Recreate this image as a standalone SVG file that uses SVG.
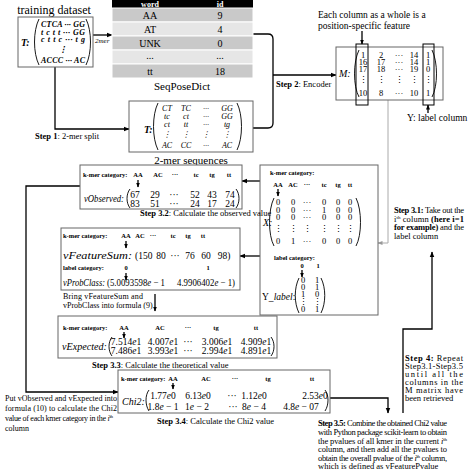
<svg xmlns="http://www.w3.org/2000/svg" width="474" height="474" viewBox="0 0 474 474">
<defs>
<style>
text{font-family:"Liberation Serif","Times New Roman",serif;fill:#000}
.b{font-weight:bold}
.i{font-style:italic}
.n{font-style:normal}
.m{text-anchor:middle}
.s6{font-size:6.5px;font-weight:bold}
.s8{font-size:8.5px}
.s9{font-size:9.5px}
.s10{font-size:10px}
.bx{fill:#fff;stroke:#666;stroke-width:1}
.ln{fill:none;stroke:#000;stroke-width:1.3}
.pr{fill:none;stroke:#000;stroke-width:0.9}
.hl{fill:none;stroke:#000;stroke-width:1}
</style>
<marker id="ah" viewBox="0 0 10 10" refX="9" refY="5" markerWidth="6" markerHeight="6" markerUnits="userSpaceOnUse" orient="auto"><path d="M0,1 L10,5 L0,9 z" fill="#000"/></marker>
<marker id="ahs" viewBox="0 0 10 10" refX="9" refY="5" markerWidth="5" markerHeight="6" markerUnits="userSpaceOnUse" orient="auto"><path d="M0,1 L10,5 L0,9 z" fill="#000"/></marker>
<marker id="ahg" viewBox="0 0 10 10" refX="9" refY="5" markerWidth="5" markerHeight="5" markerUnits="userSpaceOnUse" orient="auto"><path d="M0,1 L10,5 L0,9 z" fill="#999"/></marker>
</defs>

<g id="connectors">
<line class="ln" x1="93" y1="35" x2="112" y2="35" marker-end="url(#ah)"/>
<text x="95" y="43" class="i" font-size="7">2mer</text>
<path class="ln" d="M55,67 V129 H129" marker-end="url(#ah)"/>
<text x="35" y="139" class="s8"><tspan class="b">Step 1</tspan>: 2-mer split</text>
<path class="ln" d="M253,34 H268 Q273,34 273,39 V123 Q273,128 268,128 H253"/>
<line class="ln" x1="273" y1="75" x2="336" y2="75" marker-end="url(#ah)"/>
<text x="276" y="87" class="s8"><tspan class="b">Step 2</tspan>: Encoder</text>
<line class="ln" x1="362" y1="31" x2="362" y2="44" marker-end="url(#ahs)"/>
<line class="ln" x1="428" y1="113" x2="428" y2="105" marker-end="url(#ahs)"/>
<path d="M388,100 V243 H378" fill="none" stroke="#aaa" stroke-width="1" marker-end="url(#ahg)"/>
<line class="ln" x1="260" y1="181" x2="242" y2="181" marker-end="url(#ah)"/>
<line class="ln" x1="260" y1="256" x2="240" y2="256" marker-end="url(#ah)"/>
<line class="ln" x1="155" y1="294" x2="155" y2="311" marker-end="url(#ahs)"/>
<path class="ln" d="M80,186 H26 V392 H118" marker-end="url(#ah)"/>
<path class="ln" d="M330,398 H388 V413" marker-end="url(#ah)"/>
<path class="ln" d="M403,413 V329 H432 V252" marker-end="url(#ah)"/>
</g>

<g id="training">
<text x="54" y="14" class="m" font-size="12">training dataset</text>
<rect class="bx" x="18" y="17" width="75" height="50"/>
<text x="21" y="46" class="i b s10">T:</text>
<path class="pr" d="M39,19 C33,31 33,53 39,65"/>
<path class="pr" d="M86,19 C92,31 92,53 86,65"/>
<g class="i b" font-size="8">
<text x="41" y="27" textLength="44" lengthAdjust="spacing">CTCA ··· GG</text>
<text x="41" y="35" textLength="44" lengthAdjust="spacing">t c t t ··· GG</text>
<text x="41" y="42" textLength="44" lengthAdjust="spacing">c t t c ··· t g</text>
<text x="63" y="52" class="m">⋮</text>
<text x="41" y="63" textLength="44" lengthAdjust="spacing">ACCC ··· AC</text>
</g>
</g>

<g id="seqposedict">
<rect x="112" y="0" width="141" height="8" fill="#000"/>
<rect x="112" y="8" width="141" height="14" fill="#c9c9c9" stroke="#fff" stroke-width="1"/>
<rect x="112" y="22" width="141" height="14" fill="#e6e6e6" stroke="#fff" stroke-width="1"/>
<rect x="112" y="36" width="141" height="14" fill="#c9c9c9" stroke="#fff" stroke-width="1"/>
<rect x="112" y="50" width="141" height="14" fill="#e6e6e6" stroke="#fff" stroke-width="1"/>
<rect x="112" y="64" width="141" height="14" fill="#c9c9c9" stroke="#fff" stroke-width="1"/>
<g class="m s10">
<text x="150" y="7" class="b" font-size="8" style="fill:#fff">word</text>
<text x="220" y="7" class="b" font-size="8" style="fill:#fff">id</text>
<text x="150" y="19">AA</text><text x="220" y="19">9</text>
<text x="150" y="33">AT</text><text x="220" y="33">4</text>
<text x="150" y="47">UNK</text><text x="220" y="47">0</text>
<text x="150" y="59">...</text><text x="220" y="59">...</text>
<text x="150" y="75">tt</text><text x="220" y="75">18</text>
</g>
<text x="182" y="90" class="m" font-size="11">SeqPoseDict</text>
</g>

<g id="twomer">
<rect class="bx" x="129" y="101" width="124" height="51"/>
<text x="144" y="133" class="i b s10">T:</text>
<path class="pr" d="M158,103 C152,115 152,138 158,150"/>
<path class="pr" d="M237,103 C243,115 243,138 237,150"/>
<g class="m i" font-size="8">
<text x="167" y="111">CT</text><text x="186" y="111">TC</text><text x="206" y="111">···</text><text x="227" y="111">GG</text>
<text x="167" y="119">tc</text><text x="186" y="119">ct</text><text x="206" y="119">···</text><text x="227" y="119">GG</text>
<text x="167" y="127">ct</text><text x="186" y="127">tt</text><text x="206" y="127">···</text><text x="227" y="127">tg</text>
<text x="167" y="137">⋮</text><text x="186" y="137">⋮</text><text x="206" y="137">⋮</text><text x="227" y="137">⋮</text>
<text x="167" y="148">AC</text><text x="186" y="148">CC</text><text x="206" y="148">···</text><text x="227" y="148">AC</text>
</g>
<text x="191" y="164" class="m" font-size="11">2-mer sequences</text>
</g>

<g id="matrixM">
<text x="318" y="18" class="s9">Each column as a whole is a</text>
<text x="318" y="29" class="s9">position-specific feature</text>
<rect class="bx" x="336" y="47" width="107" height="53"/>
<text x="339" y="77" class="i s10">M:</text>
<path class="pr" d="M359,50 C353,62 353,86 359,97"/>
<path class="pr" d="M432,50 C438,62 438,86 432,97"/>
<g class="m" font-size="8.5">
<text x="363" y="58">1</text><text x="381" y="58">2</text><text x="399" y="58">···</text><text x="414" y="58">14</text><text x="428" y="58">1</text>
<text x="363" y="65">16</text><text x="381" y="65">17</text><text x="399" y="65">···</text><text x="414" y="65">14</text><text x="428" y="65">1</text>
<text x="363" y="72">17</text><text x="381" y="72">18</text><text x="399" y="72">···</text><text x="414" y="72">19</text><text x="428" y="72">0</text>
<text x="363" y="83">⋮</text><text x="381" y="83">⋮</text><text x="399" y="83">⋮</text><text x="414" y="83">⋮</text><text x="428" y="83">⋮</text>
<text x="363" y="96">10</text><text x="381" y="96">8</text><text x="399" y="96">···</text><text x="414" y="96">10</text><text x="428" y="96">1</text>
</g>
<rect class="hl" x="356" y="44" width="12" height="61"/>
<rect class="hl" x="423" y="44" width="11" height="61"/>
<text x="407" y="121" class="s9">Y: label column</text>
</g>

<g id="matrixX">
<rect class="bx" x="260" y="165" width="118" height="150"/>
<text x="270" y="175" class="s6">k-mer category:</text>
<g class="m s6">
<text x="278" y="187">AA</text><text x="293" y="187">AC</text><text x="307" y="187">···</text><text x="324" y="187">tc</text><text x="338" y="187">tg</text><text x="350" y="187">tt</text>
<text x="302" y="268">0</text><text x="318" y="268">1</text>
</g>
<line class="ln" x1="278" y1="189" x2="278" y2="196" marker-end="url(#ahs)" stroke-width="1"/>
<text x="263" y="226" class="i s10">X:</text>
<path class="pr" d="M274,198 C268,210 268,235 274,246"/>
<path class="pr" d="M356,198 C362,210 362,235 356,246"/>
<g class="m" font-size="8.5">
<text x="278" y="205">0</text><text x="293" y="205">0</text><text x="307" y="205">···</text><text x="324" y="205">0</text><text x="338" y="205">0</text><text x="350" y="205">0</text>
<text x="278" y="212.5">0</text><text x="293" y="212.5">0</text><text x="307" y="212.5">···</text><text x="324" y="212.5">1</text><text x="338" y="212.5">0</text><text x="350" y="212.5">0</text>
<text x="278" y="220">0</text><text x="293" y="220">0</text><text x="307" y="220">···</text><text x="324" y="220">0</text><text x="338" y="220">0</text><text x="350" y="220">0</text>
<text x="278" y="232">⋮</text><text x="293" y="232">⋮</text><text x="307" y="232">⋮</text><text x="324" y="232">⋮</text><text x="338" y="232">⋮</text><text x="350" y="232">⋮</text>
<text x="278" y="244">0</text><text x="293" y="244">1</text><text x="307" y="244">···</text><text x="324" y="244">0</text><text x="338" y="244">0</text><text x="350" y="244">0</text>
</g>
<text x="274" y="260" class="s6">label category:</text>
<line class="ln" x1="302" y1="270" x2="302" y2="277" marker-end="url(#ahs)" stroke-width="1"/>
<text x="262" y="300" class="s9">Y_<tspan class="i">label</tspan>:</text>
<path class="pr" d="M299,278 C294,288 294,303 299,313"/>
<path class="pr" d="M321,278 C326,288 326,303 321,313"/>
<g class="m" font-size="8.5">
<text x="303" y="283">0</text><text x="317" y="283">1</text>
<text x="303" y="290">0</text><text x="317" y="290">1</text>
<text x="303" y="297">1</text><text x="317" y="297">0</text>
<text x="303" y="305">⋮</text><text x="317" y="305">⋮</text>
<text x="303" y="312">0</text><text x="317" y="312">1</text>
</g>
</g>

<g id="step31">
<g class="s8">
<text x="394" y="213" textLength="70" lengthAdjust="spacing"><tspan class="b">Step 3.1:</tspan> Take out the</text>
<text x="394" y="221.5" textLength="70" lengthAdjust="spacing">i<tspan font-size="5" dy="-3">th</tspan><tspan dy="3"> column </tspan><tspan class="b">(here i=1</tspan></text>
<text x="394" y="230" textLength="70" lengthAdjust="spacing"><tspan class="b">for example)</tspan> and the</text>
<text x="394" y="238.5">label column</text>
</g>
</g>

<g id="vObserved">
<rect class="bx" x="80" y="165" width="162" height="44"/>
<text x="83" y="177" class="s6">k-mer category:</text>
<g class="m s6">
<text x="138" y="177">AA</text><text x="158" y="177">AC</text><text x="175" y="177">···</text><text x="196" y="177">tc</text><text x="212" y="177">tg</text><text x="229" y="177">tt</text>
</g>
<line class="ln" x1="138" y1="180" x2="138" y2="187" marker-end="url(#ahs)" stroke-width="1"/>
<text x="84" y="202" class="i" font-size="10" textLength="40" lengthAdjust="spacingAndGlyphs">vObserved:</text>
<path class="pr" d="M130,189 C126,194 126,203 130,208"/>
<path class="pr" d="M236,189 C240,194 240,203 236,208"/>
<g class="m" font-size="9.5">
<text x="135" y="197.5">67</text><text x="155" y="197.5">29</text><text x="174" y="197.5">···</text><text x="195" y="197.5">52</text><text x="212" y="197.5">43</text><text x="230" y="197.5">74</text>
<text x="135" y="206.5">83</text><text x="155" y="206.5">51</text><text x="174" y="206.5">···</text><text x="195" y="206.5">24</text><text x="212" y="206.5">17</text><text x="230" y="206.5">24</text>
</g>
<text x="140" y="216" class="s8"><tspan class="b">Step 3.2</tspan>: Calculate the observed value</text>
</g>

<g id="vFeatureSum">
<rect class="bx" x="61" y="228" width="179" height="62"/>
<text x="63" y="238" class="s6">k-mer category:</text>
<g class="m s6">
<text x="126" y="238">AA</text><text x="140" y="238">AC</text><text x="153" y="238">···</text><text x="173" y="238">tc</text><text x="188" y="238">tg</text><text x="203" y="238">tt</text>
<text x="126" y="270">0</text><text x="208" y="270">1</text>
</g>
<line class="ln" x1="126" y1="241" x2="126" y2="248" marker-end="url(#ahs)" stroke-width="1"/>
<text x="63" y="258.5" class="i s10" textLength="69" lengthAdjust="spacingAndGlyphs">vFeatureSum:</text>
<g font-size="9.5">
<text x="135" y="258.5">(150</text>
<text x="161" y="258.5" class="m">80</text>
<text x="175" y="258.5" class="m">···</text>
<text x="190" y="258.5" class="m">76</text>
<text x="206" y="258.5" class="m">60</text>
<text x="224" y="258.5" class="m">98)</text>
</g>
<text x="63" y="270" class="s6">label category:</text>
<line class="ln" x1="126" y1="273" x2="126" y2="280" marker-end="url(#ahs)" stroke-width="1"/>
<text x="63" y="286" class="i s10" textLength="42" lengthAdjust="spacingAndGlyphs">vProbClass:</text>
<text x="107" y="286" font-size="9.5" textLength="58" lengthAdjust="spacingAndGlyphs">(5.0093598<tspan class="i">e</tspan> − 1</text>
<text x="177" y="286" font-size="9.5" textLength="58" lengthAdjust="spacingAndGlyphs">4.9906402<tspan class="i">e</tspan> − 1)</text>
<text x="63" y="299" font-size="8" textLength="80" lengthAdjust="spacing">Bring vFeatureSum and</text>
<text x="63" y="308" font-size="8">vProbClass into formula (9)</text>
</g>

<g id="vExpected">
<rect class="bx" x="58" y="316" width="219" height="42"/>
<text x="63" y="330" class="s6">k-mer category:</text>
<g class="m s6">
<text x="124" y="330">AA</text><text x="160" y="330">AC</text><text x="188" y="330">···</text><text x="216" y="330">tg</text><text x="256" y="330">tt</text>
</g>
<line class="ln" x1="124" y1="332" x2="124" y2="338" marker-end="url(#ahs)" stroke-width="1"/>
<text x="62" y="350" class="i" font-size="10" textLength="45" lengthAdjust="spacingAndGlyphs">vExpected:</text>
<path class="pr" d="M112,337 C108,342 108,351 112,356"/>
<path class="pr" d="M271,337 C275,342 275,351 271,356"/>
<g class="m" font-size="9.5">
<text x="126" y="345">7.514<tspan class="i">e</tspan>1</text><text x="163" y="345">4.007<tspan class="i">e</tspan>1</text><text x="188" y="345">···</text><text x="217" y="345">3.006<tspan class="i">e</tspan>1</text><text x="256" y="345">4.909<tspan class="i">e</tspan>1</text>
<text x="126" y="354">7.486<tspan class="i">e</tspan>1</text><text x="163" y="354">3.993<tspan class="i">e</tspan>1</text><text x="188" y="354">···</text><text x="217" y="354">2.994<tspan class="i">e</tspan>1</text><text x="256" y="354">4.891<tspan class="i">e</tspan>1</text>
</g>
<text x="92" y="368" class="s8"><tspan class="b">Step 3.3</tspan>: Calculate the theoretical value</text>
</g>

<g id="chi2">
<rect class="bx" x="118" y="370" width="212" height="43"/>
<text x="121" y="381" class="s6">k-mer category:</text>
<g class="m s6">
<text x="173" y="381">AA</text><text x="206" y="381">AC</text><text x="235" y="381">···</text><text x="268" y="381">tg</text><text x="312" y="381">tt</text>
</g>
<line class="ln" x1="173" y1="383" x2="173" y2="389" marker-end="url(#ahs)" stroke-width="1"/>
<text x="122" y="405" class="i s10">Chi2:</text>
<path class="pr" d="M149,390 C145,395 145,405 149,411"/>
<path class="pr" d="M325,390 C329,395 329,405 325,411"/>
<g class="m" font-size="9.5">
<text x="163" y="399">1.77<tspan class="i">e</tspan>0</text><text x="198" y="399">6.13<tspan class="i">e</tspan>0</text><text x="232" y="399">···</text><text x="254" y="399">1.12<tspan class="i">e</tspan>0</text><text x="315" y="399">2.53<tspan class="i">e</tspan>0</text>
<text x="163" y="410">1.8<tspan class="i">e</tspan> − 1</text><text x="197" y="410">1<tspan class="i">e</tspan> − 2</text><text x="233" y="410">···</text><text x="254" y="410">8<tspan class="i">e</tspan> − 4</text><text x="301" y="410">4.8<tspan class="i">e</tspan> − 07</text>
</g>
<text x="157" y="424" class="s8"><tspan class="b">Step 3.4</tspan>: Calculate the Chi2 value</text>
</g>

<g id="putText">
<g font-size="8">
<text x="5" y="401" textLength="112" lengthAdjust="spacing">Put vObserved and vExpected into</text>
<text x="5" y="411" textLength="112" lengthAdjust="spacing">formula (10) to calculate the Chi2</text>
<text x="5" y="421" textLength="108" lengthAdjust="spacing">value of each kmer category in the <tspan class="i">i</tspan><tspan font-size="5" dy="-3">th</tspan></text>
<text x="5" y="431">column</text>
</g>
</g>

<g id="step4">
<g class="s8">
<text x="405" y="361" textLength="58" lengthAdjust="spacing"><tspan class="b">Step 4:</tspan> Repeat</text>
<text x="405" y="369" textLength="58" lengthAdjust="spacing">Step3.1-Step3.5</text>
<text x="405" y="377" textLength="58" lengthAdjust="spacing">until all the</text>
<text x="405" y="385" textLength="58" lengthAdjust="spacing">columns in the</text>
<text x="405" y="393" textLength="58" lengthAdjust="spacing">M matrix have</text>
<text x="405" y="401">been retrieved</text>
</g>
</g>

<g id="step35">
<g class="s8">
<text x="318" y="426" textLength="129" lengthAdjust="spacing"><tspan class="b">Step 3.5:</tspan> Combine the obtained Chi2 value</text>
<text x="318" y="435" textLength="129" lengthAdjust="spacing">with Python package scikit-learn to obtain</text>
<text x="318" y="444" textLength="129" lengthAdjust="spacing">the pvalues of all kmer in the current <tspan class="i">i</tspan><tspan font-size="5" dy="-3">th</tspan></text>
<text x="318" y="452" textLength="129" lengthAdjust="spacing">column, and then add all the pvalues to</text>
<text x="318" y="461" textLength="129" lengthAdjust="spacing">obtain the overall pvalue of the <tspan class="i">i</tspan><tspan font-size="5" dy="-3">th</tspan><tspan dy="3"> column,</tspan></text>
<text x="318" y="469">which is defined as vFeaturePvalue</text>
</g>
</g>
</svg>
